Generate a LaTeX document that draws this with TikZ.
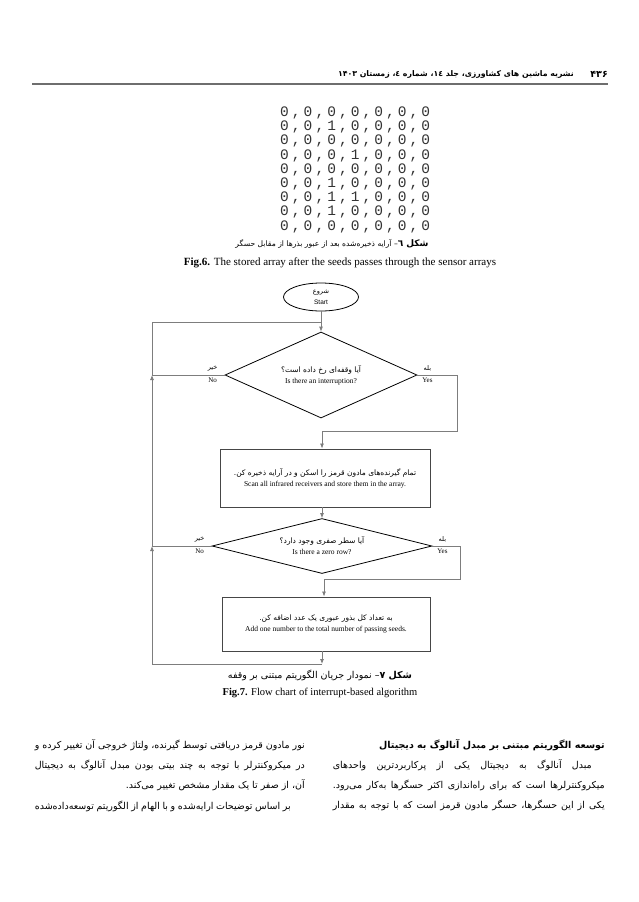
\documentclass[tikz,border=0pt]{standalone}
\usepackage{fontspec}
\setmainfont{Liberation Serif}
\newfontfamily\fa[Script=Arabic]{DejaVu Sans}
\newfontfamily\tnr{Liberation Serif}
\newfontfamily\ari{Liberation Sans}
\newfontfamily\cour{Liberation Mono}
\TeXXeTstate=1
\usetikzlibrary{shapes.geometric,arrows.meta}
\definecolor{linegray}{RGB}{125,125,125}
\definecolor{boxgray}{RGB}{70,70,70}
\definecolor{rulegray}{RGB}{110,110,110}
\newcommand{\bodyfa}{\fa\fontsize{9.5}{12}\selectfont}
\newcommand{\flowfa}{\fa\fontsize{7.5}{9}\selectfont}
\newcommand{\flowen}{\tnr\fontsize{7.5}{9}\selectfont}
\newcommand{\mrow}[7]{\makebox[150pt]{#1\hfill,\hfill#2\hfill,\hfill#3\hfill,\hfill#4\hfill,\hfill#5\hfill,\hfill#6\hfill,\hfill#7}}
\tikzset{
  conn/.style={draw=linegray, line width=0.8pt},
  arr/.style={conn, -{Latex[length=5pt,width=4pt]}},
  dia/.style={diamond, draw=black, line width=0.8pt, inner sep=0pt, align=center},
  procbox/.style={rectangle, draw=boxgray, line width=0.9pt, inner sep=0pt, align=center},
  txt/.style={inner sep=0pt},
  lblen/.style={inner sep=0pt, font=\tnr\fontsize{7}{8}\selectfont},
  lblfa/.style={inner sep=0pt, font=\fa\fontsize{6.5}{8}\selectfont},
  matrow/.style={inner sep=0pt, anchor=west, text=black!80, font=\cour\fontsize{14.5}{15}\selectfont}
}
\begin{document}
\begin{tikzpicture}[x=1pt,y=-1pt]
\path[use as bounding box, fill=white] (0,0) rectangle (638,902);

% header
\node[txt, anchor=east] (pg) at (608,74) {\fa\bfseries\fontsize{9.5}{11}\selectfont\beginR ۴۳۶\endR};
\node[txt, anchor=east] (hdr) at (574,74) {\fa\bfseries\fontsize{7.8}{10}\selectfont\beginR نشریه ماشین های کشاورزی، جلد ۱٤، شماره ٤، زمستان ۱۴۰۳\endR};
\coordinate (hl) at (32,84);
\coordinate (hr) at (608,84);
\draw[draw=rulegray, line width=1.5pt] (hl) -- (hr);

% stored array
\node[matrow] (r1) at (280,113.0) {\mrow0000000};
\node[matrow] (r2) at (280,127.2) {\mrow0010000};
\node[matrow] (r3) at (280,141.4) {\mrow0000000};
\node[matrow] (r4) at (280,155.6) {\mrow0001000};
\node[matrow] (r5) at (280,169.8) {\mrow0000000};
\node[matrow] (r6) at (280,184.0) {\mrow0010000};
\node[matrow] (r7) at (280,198.2) {\mrow0011000};
\node[matrow] (r8) at (280,212.4) {\mrow0010000};
\node[matrow] (r9) at (280,226.6) {\mrow0000000};

% caption 6
\node[txt] (c6fa) at (332,244) {\fa\fontsize{7.6}{10}\selectfont\beginR{\bfseries\fontsize{9}{10}\selectfont شکل ٦}– آرایه ذخیره‌شده بعد از عبور بذرها از مقابل حسگر\endR};
\node[txt] (c6en) at (340,263) {\tnr\fontsize{11}{13}\selectfont\textbf{Fig.6.} The stored array after the seeds passes through the sensor arrays};

% flow chart
\node[ellipse, draw=black, line width=0.8pt, minimum width=75pt, minimum height=28pt, inner sep=0pt, align=center] (start) at (321,297)
  {\fa\fontsize{6.5}{8}\selectfont\beginR شروع\endR\\[-1pt]{\ari\fontsize{6.5}{8}\selectfont Start}};

\node[dia, minimum width=192pt, minimum height=86pt, aspect=2.3] (d1) at (321,375)
  {{\flowfa\beginR آیا وقفه‌ای رخ داده است؟\endR}\\[-1pt]{\flowen Is there an interruption?}};

\node[procbox, minimum width=210pt, minimum height=58pt] (box1) at (325,478)
  {{\flowfa\beginR تمام گیرنده‌های مادون قرمز را اسکن و در آرایه ذخیره کن.\endR}\\[-1pt]{\flowen Scan all infrared receivers and store them in the array.}};

\node[dia, minimum width=220pt, minimum height=55pt, aspect=4] (d2) at (322,546)
  {{\flowfa\beginR آیا سطر صفری وجود دارد؟\endR}\\[-1pt]{\flowen Is there a zero row?}};

\node[procbox, minimum width=208pt, minimum height=54pt] (box2) at (326,624)
  {{\flowfa\beginR به تعداد کل بذور عبوری یک عدد اضافه کن.\endR}\\[-1pt]{\flowen Add one number to the total number of passing seeds.}};

% coordinates of connectors
\coordinate (tj) at (321,322);
\coordinate (lt) at (152,322);
\coordinate (l1) at (152,375);
\coordinate (l2) at (152,546);
\coordinate (lb) at (152,664);
\coordinate (bj) at (322,664);
\coordinate (y1a) at (457,375);
\coordinate (y1b) at (457,431);
\coordinate (y1c) at (322,431);
\coordinate (y2a) at (460,546);
\coordinate (y2b) at (460,579);
\coordinate (y2c) at (324,579);

\draw[arr] (start.south) -- (d1.north);
\draw[conn] (lt) -- (tj);
\draw[conn] (d1.west) -- (l1);
\draw[conn] (l1) -- (lt);
\draw[arr] (l2) -- (l1);
\draw[arr] (lb) -- (l2);
\draw[conn] (d2.west) -- (l2);
\draw[arr] (d1.east) -- (y1a) -- (y1b) -- (y1c) -- (y1c |- box1.north);
\draw[arr] (d2.north |- box1.south) -- (d2.north);
\draw[arr] (d2.east) -- (y2a) -- (y2b) -- (y2c) -- (y2c |- box2.north);
\draw[arr] (bj |- box2.south) -- (bj);
\draw[conn] (bj) -- (lb);

% branch labels
\node[lblfa] (no1fa) at ([xshift=-12pt,yshift=6pt]d1.west) {\beginR خیر\endR};
\node[lblen] (no1en) at ([xshift=-12pt,yshift=-5pt]d1.west) {No};
\node[lblfa] (ye1fa) at ([xshift=10pt,yshift=6pt]d1.east) {\beginR بله\endR};
\node[lblen] (ye1en) at ([xshift=10pt,yshift=-5pt]d1.east) {Yes};
\node[lblfa] (no2fa) at ([xshift=-12pt,yshift=6pt]d2.west) {\beginR خیر\endR};
\node[lblen] (no2en) at ([xshift=-12pt,yshift=-5pt]d2.west) {No};
\node[lblfa] (ye2fa) at ([xshift=10pt,yshift=6pt]d2.east) {\beginR بله\endR};
\node[lblen] (ye2en) at ([xshift=10pt,yshift=-5pt]d2.east) {Yes};

% caption 7
\node[txt] (c7fa) at (320,675) {\fa\fontsize{9.5}{11}\selectfont\beginR{\bfseries شکل ۷}– نمودار جریان الگوریتم مبتنی بر وقفه\endR};
\node[txt] (c7en) at (320,693) {\tnr\fontsize{10.5}{12}\selectfont\textbf{Fig.7.} Flow chart of interrupt-based algorithm};

% right column
\node[txt, anchor=east] (h1) at (605,745) {\fa\bfseries\fontsize{9.5}{12}\selectfont\beginR توسعه الگوریتم مبتنی بر مبدل آنالوگ به دیجیتال\endR};
\node[txt, anchor=east] (rl1) at (592,765) {\bodyfa\makebox[259pt][s]{\beginR مبدل آنالوگ به دیجیتال یکی از پرکاربردترین واحدهای\endR}};
\node[txt, anchor=east] (rl2) at (605,785) {\bodyfa\makebox[272pt][s]{\beginR میکروکنترلرها است که برای راه‌اندازی اکثر حسگرها به‌کار می‌رود.\endR}};
\node[txt, anchor=east] (rl3) at (605,805) {\bodyfa\makebox[272pt][s]{\beginR یکی از این حسگرها، حسگر مادون قرمز است که با توجه به مقدار\endR}};

% left column
\node[txt, anchor=east] (ll1) at (305,745) {\bodyfa\makebox[270pt][s]{\beginR نور مادون قرمز دریافتی توسط گیرنده، ولتاژ خروجی آن تغییر کرده و\endR}};
\node[txt, anchor=east] (ll2) at (305,765) {\bodyfa\makebox[270pt][s]{\beginR در میکروکنترلر با توجه به چند بیتی بودن مبدل آنالوگ به دیجیتال\endR}};
\node[txt, anchor=east] (ll3) at (305,785) {\bodyfa\beginR آن، از صفر تا یک مقدار مشخص تغییر می‌کند.\endR};
\node[txt, anchor=east] (ll4) at (291,806) {\bodyfa\makebox[256pt][s]{\beginR بر اساس توضیحات ارایه‌شده و با الهام از الگوریتم توسعه‌داده‌شده\endR}};
\end{tikzpicture}
\end{document}
